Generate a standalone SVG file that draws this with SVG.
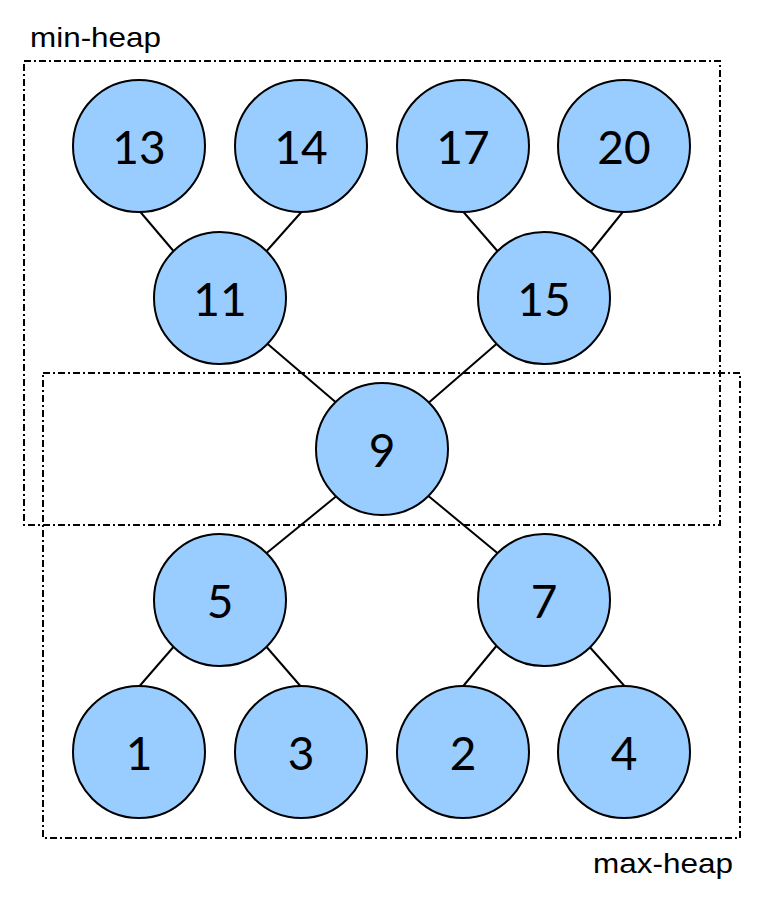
<svg xmlns="http://www.w3.org/2000/svg" width="781" height="900" viewBox="0 0 781 900">
<style>
.box{fill:none;stroke:#000;stroke-width:2;stroke-dasharray:7,3,2,3}
.node circle{fill:#99ccff;stroke:#000;stroke-width:2}
.node text{font-family:"Lato","Open Sans",sans-serif;font-size:46px;text-anchor:middle;fill:#000}
.lbl{font-family:"Liberation Sans",Arial,sans-serif;font-size:28px;fill:#000}
#edges line{stroke:#000;stroke-width:2}
</style>
<rect width="781" height="900" fill="#fff"/>
<rect class="box" x="24" y="61" width="696" height="464"/>
<rect class="box" x="43" y="373" width="697" height="465"/>
<text class="lbl" x="30" y="47" textLength="131" lengthAdjust="spacingAndGlyphs">min-heap</text>
<text class="lbl" x="593" y="873" textLength="140" lengthAdjust="spacingAndGlyphs">max-heap</text>
<g id="edges">
<line x1="137" y1="208" x2="176" y2="254"/>
<line x1="305" y1="208" x2="264" y2="254"/>
<line x1="460" y1="208" x2="500" y2="254"/>
<line x1="626" y1="208" x2="589" y2="254"/>
<line x1="263" y1="340" x2="339" y2="405"/>
<line x1="501" y1="340" x2="426" y2="405"/>
<line x1="339" y1="494" x2="263" y2="556"/>
<line x1="426" y1="494" x2="501" y2="556"/>
<line x1="176" y1="644" x2="137" y2="689"/>
<line x1="264" y1="644" x2="303" y2="689"/>
<line x1="498" y1="644" x2="460" y2="690"/>
<line x1="587" y1="644" x2="628" y2="690"/>
</g>
<g id="n13" class="node"><circle cx="139" cy="146" r="66"/><text x="139" y="164">13</text></g>
<g id="n14" class="node"><circle cx="301" cy="146" r="66"/><text x="301" y="164">14</text></g>
<g id="n17" class="node"><circle cx="463" cy="146" r="66"/><text x="463" y="164">17</text></g>
<g id="n20" class="node"><circle cx="624" cy="146" r="66"/><text x="624" y="164">20</text></g>
<g id="n11" class="node"><circle cx="220" cy="298" r="66"/><text x="220" y="316">11</text></g>
<g id="n15" class="node"><circle cx="544" cy="298" r="66"/><text x="544" y="316">15</text></g>
<g id="n9" class="node"><circle cx="382" cy="449" r="66"/><text x="382" y="467">9</text></g>
<g id="n5" class="node"><circle cx="220" cy="600" r="66"/><text x="220" y="618">5</text></g>
<g id="n7" class="node"><circle cx="544" cy="600" r="66"/><text x="544" y="618">7</text></g>
<g id="n1" class="node"><circle cx="139" cy="752" r="66"/><text x="139" y="770">1</text></g>
<g id="n3" class="node"><circle cx="301" cy="752" r="66"/><text x="301" y="770">3</text></g>
<g id="n2" class="node"><circle cx="463" cy="752" r="66"/><text x="463" y="770">2</text></g>
<g id="n4" class="node"><circle cx="624" cy="752" r="66"/><text x="624" y="770">4</text></g>
</svg>
